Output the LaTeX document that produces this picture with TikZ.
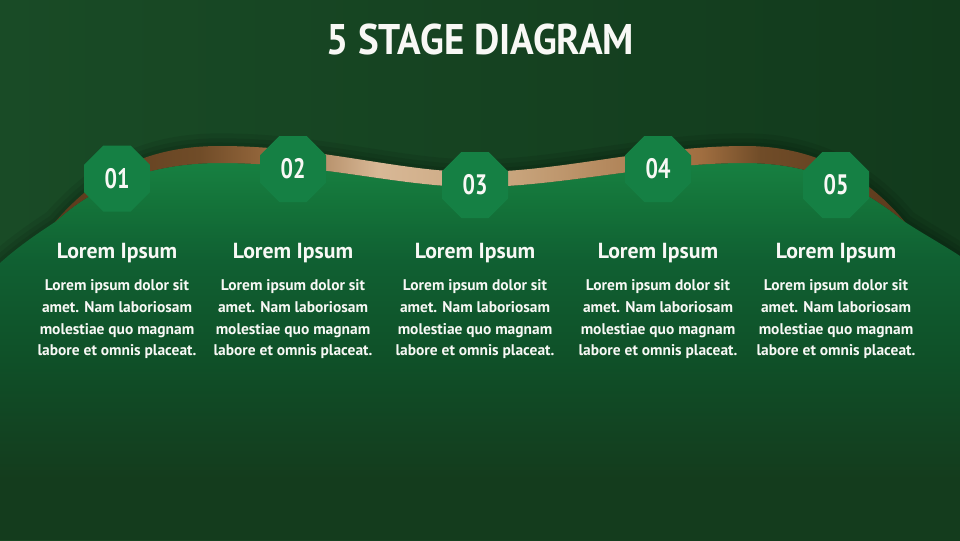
\documentclass[tikz,border=0pt]{standalone}
\usepackage{fontspec}
\setmainfont{PT Sans}
\newfontfamily\titlefont[FakeStretch=0.91]{PT Sans}
\newfontfamily\numfont[FakeStretch=0.78]{PT Sans}
\usetikzlibrary{shapes.geometric}

\definecolor{bgleft}{RGB}{25,75,38}
\definecolor{bgright}{RGB}{18,58,28}
\definecolor{octgreen}{RGB}{21,128,68}
\definecolor{hilltop}{RGB}{23,128,65}
\definecolor{hillupper}{RGB}{20,116,58}
\definecolor{hillmid}{RGB}{16,96,50}
\definecolor{hilllow}{RGB}{15,80,40}
\definecolor{hilldeep}{RGB}{18,68,34}
\definecolor{hillbase}{RGB}{20,60,29}
\definecolor{bandend}{RGB}{92,58,28}
\definecolor{banddark}{RGB}{112,76,40}
\definecolor{bandmid}{RGB}{145,100,58}
\definecolor{bandlight}{RGB}{216,184,150}
\definecolor{bandtan}{RGB}{200,164,124}
\definecolor{bandwarm}{RGB}{160,110,64}
\definecolor{textwhite}{RGB}{248,248,245}

\pgfdeclareverticalshading{hillshade}{100bp}{color(0bp)=(hillbase);
  color(33bp)=(hillbase); color(40bp)=(hilldeep); color(48.9bp)=(hilllow);
  color(62.1bp)=(hillmid); color(70bp)=(hillupper); color(75bp)=(hilltop);
  color(100bp)=(hilltop)}
\pgfdeclarehorizontalshading{bandshade}{100bp}{color(0bp)=(bandend);
  color(25bp)=(bandend); color(33.5bp)=(banddark); color(37bp)=(bandmid);
  color(44bp)=(bandlight); color(52bp)=(bandtan); color(63bp)=(bandwarm);
  color(66.5bp)=(banddark); color(75bp)=(bandend); color(100bp)=(bandend)}

\tikzset{
  octagon/.style={regular polygon, regular polygon sides=8, fill=octgreen,
    minimum size=50.8pt, inner sep=0pt, text=textwhite,
    font=\numfont\fontsize{20}{22}\selectfont\bfseries},
  heading/.style={text=textwhite, font=\fontsize{15.5}{18}\selectfont\bfseries},
  bodytext/.style={text=textwhite, align=center, inner sep=0pt,
    font=\fontsize{11}{15.4}\selectfont\bfseries}
}

\begin{document}
\begin{tikzpicture}[x=0.025cm,y=-0.025cm]
\useasboundingbox (0,0) rectangle (960,540);
\fill[left color=bgleft,right color=bgright] (0,0) rectangle (960,540);
\coordinate (L) at (55,222);
\coordinate (R) at (905,222);
% soft shadow over the ridge
\foreach \w in {18,11,5}
  \draw[black,opacity=0.08,line width=\w pt] (0,263) .. controls (20,245) and (40,232) .. (L)
    .. controls (100,170) and (150,146) .. (220,146)
    .. controls (320,146) and (400,172) .. (475,172)
    .. controls (560,172) and (650,146) .. (745,146)
    .. controls (820,146) and (870,180) .. (R)
    .. controls (925,235) and (945,246) .. (960,256);
% green hill
\shade[shading=hillshade] (0,540) -- (0,263) .. controls (20,245) and (40,232) .. (L)
  .. controls (95,185) and (150,163) .. (220,163)
  .. controls (320,163) and (400,187) .. (475,187)
  .. controls (560,187) and (650,163) .. (745,163)
  .. controls (810,163) and (860,185) .. (R)
  .. controls (925,235) and (945,246) .. (960,256) -- (960,540) -- cycle;
% brown band
\shade[shading=bandshade] (L) .. controls (100,170) and (150,146) .. (220,146)
  .. controls (320,146) and (400,172) .. (475,172)
  .. controls (560,172) and (650,146) .. (745,146)
  .. controls (820,146) and (870,180) .. (R)
  .. controls (860,185) and (810,163) .. (745,163)
  .. controls (650,163) and (560,187) .. (475,187)
  .. controls (400,187) and (320,163) .. (220,163)
  .. controls (150,163) and (95,185) .. (L) -- cycle;
\node[text=textwhite,font=\titlefont\fontsize{30.5}{36}\selectfont\bfseries] (title) at (480,39) {5 STAGE DIAGRAM};
\foreach \i/\x/\y in {1/117/178.5,2/293/169,3/475/185,4/658/169,5/836/185}{
  \node[octagon] (oct\i) at (\x,\y) {0\i};
  \node[heading] (head\i) at (\x,253.5) {Lorem Ipsum};
  \node[bodytext] (body\i) at (\x,319.5) {Lorem ipsum dolor sit\\amet. Nam laboriosam\\molestiae quo magnam\\labore et omnis placeat.};
}
\end{tikzpicture}
\end{document}
